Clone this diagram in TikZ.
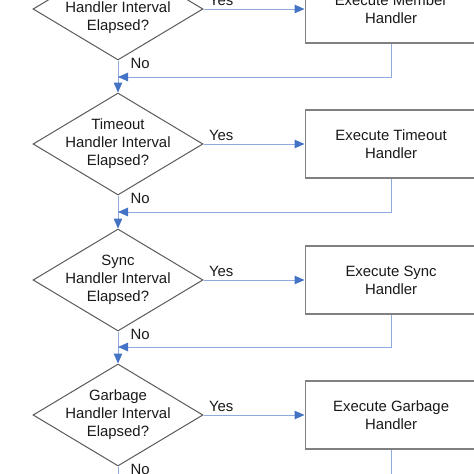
\documentclass[tikz,border=0pt]{standalone}
\usepackage{fontspec}
\setmainfont{Liberation Sans}
\usepackage{tikz}
\usetikzlibrary{arrows.meta,shapes.geometric,positioning}
\usepackage{xcolor}
\definecolor{flowblue}{RGB}{143,170,220}
\definecolor{tipblue}{RGB}{68,114,196}
\definecolor{boxgray}{RGB}{128,128,128}
\definecolor{decgray}{RGB}{90,90,90}
\definecolor{txtdark}{RGB}{25,25,25}

\begin{document}
\begin{tikzpicture}[x=1pt, y=-1pt,
      font=\fontsize{14.9}{18}\selectfont, text=txtdark,
      decide/.style={draw=decgray, line width=1pt, diamond, inner sep=0pt,
                     minimum width=170pt, minimum height=102pt},
      dtext/.style={align=center, inner sep=0pt},
      hbox/.style={draw=boxgray, line width=1.2pt, rectangle, align=center,
                   minimum width=172pt, minimum height=68pt},
      flow/.style={draw=flowblue, line width=1pt,
                   -{Triangle[length=10pt,width=8.5pt,color=tipblue]}},
      lbl/.style={inner sep=1pt}
    ]
    \useasboundingbox (0,0) rectangle (474,474);

    % decisions
    \node[decide, label={[dtext]center:Member\\Handler Interval\\Elapsed?}] (d1) at (118,9) {};
    \node[decide, label={[dtext]center:Timeout\\Handler Interval\\Elapsed?}] (d2) at (118,144) {};
    \node[decide, label={[dtext]center:Sync\\Handler Interval\\Elapsed?}] (d3) at (118,280) {};
    \node[decide, label={[dtext]center:Garbage\\Handler Interval\\Elapsed?}] (d4) at (118,415) {};

    % handlers
    \node[hbox, right=101pt of d1] (b1) {Execute Member\\Handler};
    \node[hbox, right=101pt of d2] (b2) {Execute Timeout\\Handler};
    \node[hbox, right=101pt of d3] (b3) {Execute Sync\\Handler};
    \node[hbox, right=101pt of d4] (b4) {Execute Garbage\\Handler};

    % where the handlers come back
    \coordinate (j1) at (118,77);
    \coordinate (j2) at (118,212);
    \coordinate (j3) at (118,347);
    \coordinate (j4) at (118,483);
    \coordinate (d5) at (118,505);

    % yes
    \draw[flow] (d1.east) -- node[lbl, pos=0, anchor=south west, xshift=4pt, yshift=2pt]{Yes} (b1.west);
    \draw[flow] (d2.east) -- node[lbl, pos=0, anchor=south west, xshift=4pt, yshift=2pt]{Yes} (b2.west);
    \draw[flow] (d3.east) -- node[lbl, pos=0, anchor=south west, xshift=4pt, yshift=2pt]{Yes} (b3.west);
    \draw[flow] (d4.east) -- node[lbl, pos=0, anchor=south west, xshift=4pt, yshift=2pt]{Yes} (b4.west);

    % no
    \draw[flow] (d1.south) -- node[lbl, pos=0.09, anchor=west, xshift=11pt]{No} (d2.north);
    \draw[flow] (d2.south) -- node[lbl, pos=0.09, anchor=west, xshift=11pt]{No} (d3.north);
    \draw[flow] (d3.south) -- node[lbl, pos=0.09, anchor=west, xshift=11pt]{No} (d4.north);
    \draw[flow] (d4.south) -- node[lbl, pos=0.08, anchor=west, xshift=11pt]{No} (d5);

    % back to the main line
    \draw[flow] (b1.south) |- (j1);
    \draw[flow] (b2.south) |- (j2);
    \draw[flow] (b3.south) |- (j3);
    \draw[flow] (b4.south) |- (j4);
  \end{tikzpicture}
\end{document}
